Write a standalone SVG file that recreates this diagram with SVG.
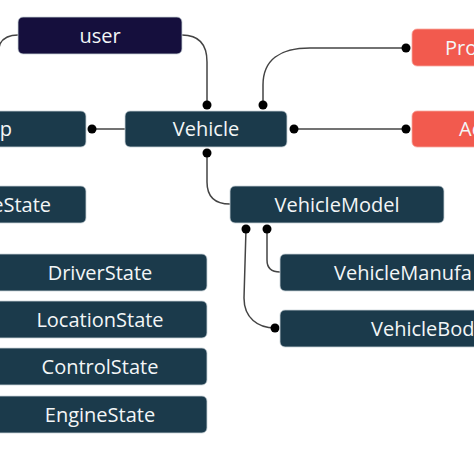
<svg xmlns="http://www.w3.org/2000/svg" width="474" height="474" viewBox="0 0 474 474">
<style>
.n rect{stroke:#c9d3d8;stroke-width:0.8}
.d rect{fill:#1b3a4b}
.u rect{fill:#150f3d}
.r rect{fill:#f25a4e;stroke:#f7a8a0}
text{font-family:"Open Sans","Noto Sans",sans-serif;font-size:20px;fill:#f3f6f7;dominant-baseline:central}
.c path{fill:none;stroke:#444;stroke-width:1.5}
.c circle{fill:#000}
</style>
<rect width="474" height="474" fill="#fff"/>
<g class="c" id="connectors">
<path d="M18,35 C8,35 3,38 0,44 L-4,60"/>
<path d="M182,35 C200,35 207,45 207,62 L207,105"/>
<path d="M92,129 L125,129"/>
<path d="M263,105 L263,85 C263,60 280,48 310,48 L406,48"/>
<path d="M294,129 L406,129"/>
<path d="M207,153 L207,182 C207,197 215,204 230,204"/>
<path d="M267,229 L267,260 C267,268 271,272 280,272"/>
<path d="M246,229 L244,298 C244,318 258,328 275,328"/>
<circle cx="207" cy="105" r="4.5"/>
<circle cx="92" cy="129" r="4.5"/>
<circle cx="263" cy="105" r="4.5"/>
<circle cx="406" cy="48" r="4.5"/>
<circle cx="294" cy="129" r="4.5"/>
<circle cx="406" cy="129" r="4.5"/>
<circle cx="207" cy="153" r="4.5"/>
<circle cx="246" cy="229" r="4.5"/>
<circle cx="267" cy="229" r="4.5"/>
<circle cx="275" cy="328" r="4.5"/>
</g>
<g id="user" class="n u"><rect x="18" y="17" width="164" height="37" rx="5"/><text x="100" y="35" text-anchor="middle">user</text></g>
<g id="vehicle" class="n d"><rect x="125" y="111" width="162" height="36" rx="5"/><text x="206" y="128.5" text-anchor="middle">Vehicle</text></g>
<g id="p" class="n d"><rect x="-20" y="111" width="106" height="36" rx="5"/><text x="12" y="128.5" text-anchor="end">p</text></g>
<g id="pro" class="n r"><rect x="412" y="29" width="80" height="37" rx="5"/><text x="445" y="47">Pro</text></g>
<g id="ac" class="n r"><rect x="412" y="111" width="80" height="36" rx="5"/><text x="459" y="128.5">Ac</text></g>
<g id="estate" class="n d"><rect x="-20" y="186" width="106" height="37" rx="5"/><text x="51" y="204" text-anchor="end">eState</text></g>
<g id="vehiclemodel" class="n d"><rect x="230" y="186" width="214" height="37" rx="5"/><text x="337" y="204" text-anchor="middle">VehicleModel</text></g>
<g id="driverstate" class="n d"><rect x="-7" y="254" width="214" height="37" rx="5"/><text x="100" y="272" text-anchor="middle">DriverState</text></g>
<g id="locationstate" class="n d"><rect x="-7" y="301" width="214" height="37" rx="5"/><text x="100" y="319" text-anchor="middle">LocationState</text></g>
<g id="controlstate" class="n d"><rect x="-7" y="348" width="214" height="37" rx="5"/><text x="100" y="366" text-anchor="middle">ControlState</text></g>
<g id="enginestate" class="n d"><rect x="-7" y="396" width="214" height="37" rx="5"/><text x="100" y="414" text-anchor="middle">EngineState</text></g>
<g id="vehiclemanufa" class="n d"><rect x="280" y="254" width="214" height="37" rx="5"/><text x="334" y="272">VehicleManufa</text></g>
<g id="vehiclebod" class="n d"><rect x="280" y="310" width="214" height="37" rx="5"/><text x="371" y="328">VehicleBod</text></g>
</svg>
